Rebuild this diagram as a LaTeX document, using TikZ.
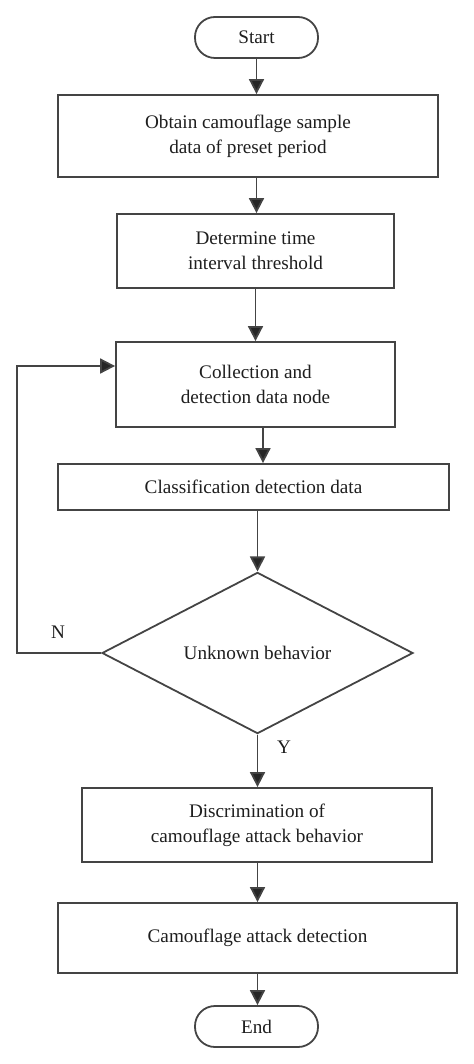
\documentclass[tikz,border=0pt]{standalone}
\usepackage{fontspec}
\setmainfont{Liberation Serif}
\usetikzlibrary{shapes.geometric, arrows.meta}

\definecolor{linegray}{HTML}{444444}
\definecolor{textgray}{HTML}{1E1E1E}

\tikzset{
    box/.style={draw=linegray, line width=0.9pt, rectangle, inner sep=0pt,
        align=center, text=textgray, font=\fontsize{9.6}{12.5}\selectfont},
    term/.style={box, rounded corners=10pt, minimum width=61.5pt, minimum height=20.5pt},
    decide/.style={box, diamond, minimum width=155.5pt, minimum height=65pt},
    flow/.style={draw=linegray, line width=0.9pt,
        -{Triangle[length=7.5pt, width=7.5pt, fill=black!85]}},
    tag/.style={text=textgray, font=\fontsize{9.6}{12}\selectfont}
}

\begin{document}
\begin{tikzpicture}[x=0.5pt, y=-0.5pt]

    % page frame
    \useasboundingbox (0,0) rectangle (474,1064);

    % ================= nodes =================
    \node[term] (start) at (256.5, 37.5) {Start};
    \node[box, minimum width=190pt, minimum height=41pt] (obtain) at (248, 136)
        {Obtain camouflage sample\\data of preset period};
    \node[box, minimum width=138.5pt, minimum height=37pt] (thresh) at (255.5, 251)
        {Determine time\\interval threshold};
    \node[box, minimum width=139.5pt, minimum height=42.5pt] (collect) at (255.5, 384.5)
        {Collection and\\detection data node};
    \node[box, minimum width=195.5pt, minimum height=23pt] (classify) at (253.5, 487)
        {Classification detection data};
    \node[decide] (unknown) at (257.5, 653) {Unknown behavior};
    \node[box, minimum width=175pt, minimum height=37pt] (discrim) at (257, 825)
        {Discrimination of\\camouflage attack behavior};
    \node[box, minimum width=199.5pt, minimum height=35pt] (detect) at (257.5, 938)
        {Camouflage attack detection};
    \node[term] (stop) at (256.5, 1026.5) {End};

    % helper points for the loop and the offset arrow
    \coordinate (loopB) at (17, 653);
    \coordinate (loopT) at (17, 366);
    \coordinate (shift) at (263, 0);

    % ================= connectors =================
    \draw[flow] (start) -- (start |- obtain.north);
    \draw[flow] (start |- obtain.south) -- (start |- thresh.north);
    \draw[flow] (thresh) -- (thresh |- collect.north);
    \draw[flow] (collect.south -| shift) -- (classify.north -| shift);
    \draw[flow] (unknown |- classify.south) -- (unknown.north);
    \draw[flow] (unknown.south) -- (unknown |- discrim.north);
    \draw[flow] (unknown |- discrim.south) -- (unknown |- detect.north);
    \draw[flow] (unknown |- detect.south) -- (stop.north -| unknown);

    % N branch back to collection
    \draw[flow] (unknown.west) -- (loopB) -- (loopT) -- (loopT -| collect.west);

    % branch labels
    \node[tag] (lblN) at (58, 632) {N};
    \node[tag] (lblY) at (284, 747) {Y};

\end{tikzpicture}
\end{document}
